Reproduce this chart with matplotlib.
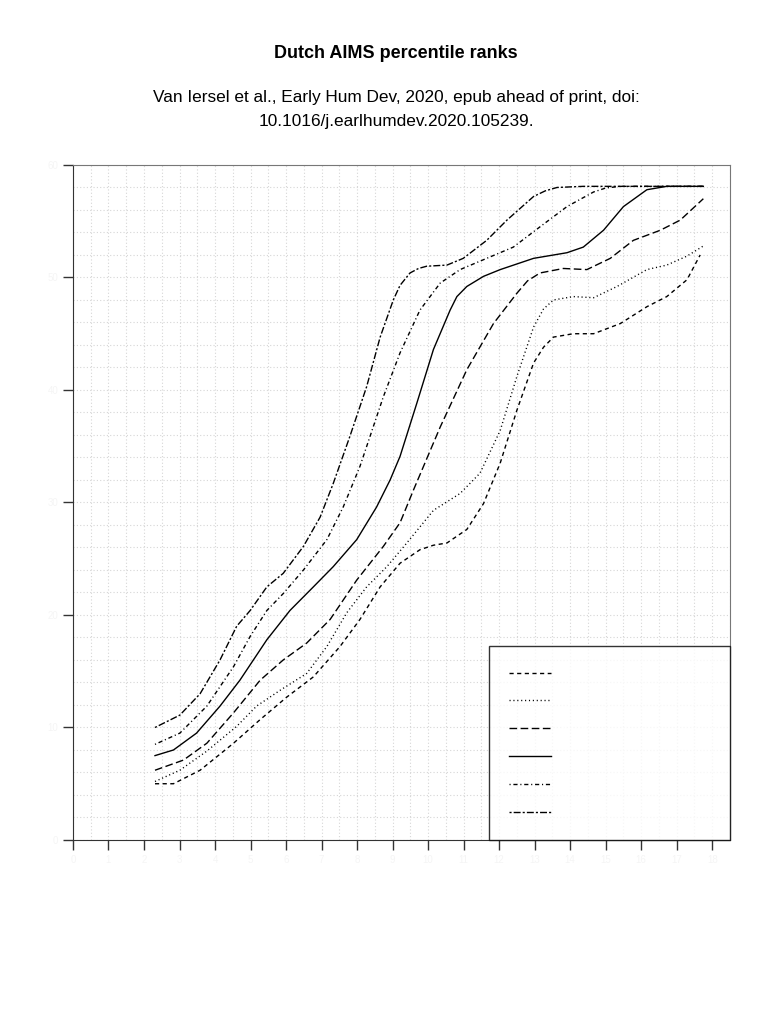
import matplotlib
matplotlib.use('Agg')
import matplotlib.pyplot as plt
from matplotlib.ticker import MultipleLocator

plt.rcParams['font.family'] = ['Liberation Sans', 'DejaVu Sans']

# age in months vs AIMS total score
p5_age = [2.31, 2.83, 3.58, 4.52, 5.27, 6.02, 6.77, 7.52, 8.08, 8.65, 9.21, 9.77,
          10.15, 10.53, 11.09, 11.56, 12.03, 12.50, 12.97, 13.25, 13.53, 14.09,
          14.66, 15.41, 16.16, 16.72, 17.29, 17.66]
p5_score = [5.0, 5.0, 6.2, 8.6, 10.7, 12.7, 14.5, 17.2, 19.6, 22.5, 24.6, 25.8,
            26.2, 26.4, 27.6, 29.9, 33.5, 38.2, 42.4, 43.8, 44.7, 45.0,
            45.0, 45.9, 47.4, 48.3, 49.8, 52.0]

p10_age = [2.31, 3.01, 3.77, 4.61, 5.17, 5.83, 6.58, 7.15, 7.71, 8.27, 8.84, 9.40,
           10.15, 10.90, 11.46, 12.03, 12.50, 12.97, 13.25, 13.53, 14.09, 14.66,
           15.32, 16.16, 16.72, 17.29, 17.75]
p10_score = [5.2, 6.2, 7.9, 10.1, 11.9, 13.3, 14.8, 17.2, 20.2, 22.5, 24.3, 26.4,
             29.3, 30.8, 32.6, 36.4, 41.2, 45.6, 47.2, 48.0, 48.3, 48.2,
             49.2, 50.7, 51.1, 51.9, 52.8]

p25_age = [2.31, 3.11, 3.77, 4.52, 5.27, 5.92, 6.58, 7.24, 7.99, 8.74, 9.21, 9.60,
           10.34, 11.09, 11.84, 12.50, 12.80, 13.15, 13.81, 14.47, 15.13, 15.78,
           16.54, 17.10, 17.75]
p25_score = [6.2, 7.1, 8.6, 11.3, 14.2, 16.0, 17.5, 19.6, 23.1, 26.1, 28.2, 31.2,
             36.7, 41.8, 45.9, 48.6, 49.7, 50.4, 50.8, 50.7, 51.7, 53.3,
             54.2, 55.1, 57.0]

p50_age = [2.31, 2.83, 3.48, 4.14, 4.70, 5.46, 6.11, 6.77, 7.33, 7.99, 8.55, 8.93,
           9.21, 9.68, 10.15, 10.62, 10.81, 11.09, 11.56, 12.03, 12.97, 13.91,
           14.37, 14.94, 15.50, 16.16, 16.72, 17.75]
p50_score = [7.5, 8.0, 9.5, 11.9, 14.2, 17.8, 20.4, 22.5, 24.3, 26.7, 29.6, 32.0,
             34.1, 38.8, 43.6, 47.1, 48.3, 49.2, 50.1, 50.7, 51.7, 52.2,
             52.7, 54.2, 56.3, 57.8, 58.1, 58.1]

p75_age = [2.31, 3.01, 3.77, 4.52, 4.99, 5.46, 5.92, 6.49, 7.15, 7.61, 8.08, 8.74,
           9.21, 9.77, 10.34, 10.90, 11.65, 12.40, 13.15, 13.91, 14.66, 15.00,
           15.41, 17.75]
p75_score = [8.5, 9.5, 11.9, 15.4, 18.1, 20.4, 21.9, 24.0, 26.7, 29.6, 33.2, 39.4,
             43.3, 47.1, 49.5, 50.7, 51.7, 52.7, 54.5, 56.3, 57.6, 57.95,
             58.1, 58.1]

p90_age = [2.31, 3.01, 3.58, 4.14, 4.61, 4.99, 5.46, 5.92, 6.49, 6.96, 7.33, 7.80,
           8.27, 8.65, 9.02, 9.21, 9.49, 9.73, 9.96, 10.53, 10.76, 10.99, 11.65,
           12.22, 12.97, 13.30, 13.63, 14.37, 15.78, 17.75]
p90_score = [10.0, 11.1, 13.0, 16.0, 19.0, 20.4, 22.5, 23.7, 26.1, 28.7, 31.7, 35.9,
             40.3, 44.7, 48.0, 49.3, 50.4, 50.8, 51.0, 51.1, 51.4, 51.7, 53.3,
             55.1, 57.2, 57.7, 58.0, 58.1, 58.1, 58.1]

labels = ['P5', 'P10', 'P25', 'P50', 'P75', 'P90']
x_ticks = list(range(0, 19))
y_ticks = list(range(0, 61, 10))

curves = [(p5_age, p5_score), (p10_age, p10_score), (p25_age, p25_score),
          (p50_age, p50_score), (p75_age, p75_score), (p90_age, p90_score)]
# R-like line types: dashed, dotted, longdash, solid, dotdash, twodash
styles = [(0, (3, 2.5)), (0, (0.8, 2)), (0, (5.5, 2.5)), '-',
          (0, (0.8, 2, 3, 2)), (0, (1.5, 1.5, 5, 1.5))]

fig = plt.figure(figsize=(7.68, 10.24), dpi=100)
ax = fig.add_axes([0.095, 0.1797, 0.8555, 0.6592])

for (xs, ys), lab, ls in zip(curves, labels, styles):
    ax.plot(xs, ys, color='black', lw=1.0, ls=ls, label=lab,
            solid_joinstyle='round', dash_joinstyle='round')

ax.set_xlim(0, 18.5)
ax.set_ylim(0, 60)
ax.set_xticks(x_ticks)
ax.set_yticks(y_ticks)
ax.xaxis.set_minor_locator(MultipleLocator(0.5))
ax.yaxis.set_minor_locator(MultipleLocator(2))
ax.grid(which='both', ls=(0, (1, 2)), color='#d6d6d6', lw=0.8)
ax.tick_params(which='major', direction='out', length=7, width=1, color='#333333',
               labelsize=7, labelcolor='#f5f5f5')
ax.tick_params(which='minor', length=0)
for side in ['left', 'bottom']:
    ax.spines[side].set_color('#333333')
for side in ['top', 'right']:
    ax.spines[side].set_color('#777777')

leg = ax.legend(loc='lower left', bbox_to_anchor=(0.633, 0, 0.367, 0.29),
                mode='expand', borderaxespad=0, fancybox=False, fontsize=10,
                handlelength=3, labelspacing=1.0, borderpad=1.45, frameon=True)
leg.get_frame().set_edgecolor('black')
leg.get_frame().set_linewidth(1.0)
for t in leg.get_texts():
    t.set_color('white')

fig.text(0.516, 0.9475, 'Dutch AIMS percentile ranks', ha='center', va='center',
         fontsize=13, fontweight='bold')
fig.text(0.516, 0.9045, 'Van Iersel et al., Early Hum Dev, 2020, epub ahead of print, doi:',
         ha='center', va='center', fontsize=12.4)
fig.text(0.516, 0.881, '10.1016/j.earlhumdev.2020.105239.',
         ha='center', va='center', fontsize=12.4)

fig.savefig('out.png', dpi=100)
